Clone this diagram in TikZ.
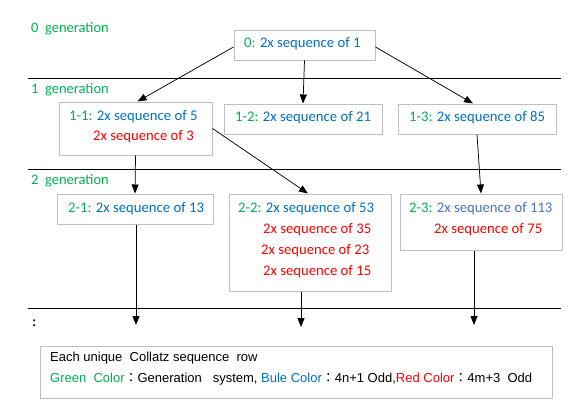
\documentclass[tikz,border=0pt]{standalone}
\usepackage{fontspec}
\setmainfont{Carlito}
\newfontfamily\arialf{Liberation Sans}
\newfontfamily\cjkf{Noto Sans CJK JP}
\usetikzlibrary{arrows.meta}
\definecolor{cgreen}{RGB}{0,176,80}
\definecolor{cblue}{RGB}{0,112,192}
\definecolor{cblueb}{RGB}{70,114,196}
\definecolor{cred}{RGB}{255,0,0}
\definecolor{cbox}{RGB}{191,191,191}
\newcommand{\gtx}[1]{\textcolor{cgreen}{#1}}
\newcommand{\btx}[1]{\textcolor{cblue}{#1}}
\newcommand{\rtx}[1]{\textcolor{cred}{#1}}
\begin{document}
\begin{tikzpicture}[x=1pt,y=-1pt,
  box/.style={draw=cbox, line width=1pt, inner sep=0pt},
  txt/.style={anchor=west, inner sep=0pt, font=\fontsize{14.7}{17}\selectfont},
  gen/.style={anchor=west, inner sep=0pt, text=cgreen, font=\fontsize{14.5}{17}\selectfont},
  leg/.style={anchor=west, inner sep=0pt, font=\arialf\fontsize{13}{15}\selectfont},
  sep/.style={line width=0.85pt, black},
  arr/.style={-{Triangle[length=9pt,width=7pt]}, line width=0.75pt, black}]
\useasboundingbox (0,0) rectangle (583,418);
% separator lines
\draw[sep] (28,78) -- (561,78);
\draw[sep] (28,169) -- (561,169);
\draw[sep] (28,308) -- (561,308);
% generation labels
\node[gen] (g0) at (31,29) {0\ \ generation};
\node[gen] (g1) at (31,90) {1\ \ generation};
\node[gen] (g2) at (31,181) {2\ \ generation};
\node[leg, font=\arialf\bfseries\fontsize{13}{15}\selectfont] (dots) at (32,323) {:};
% boxes
\node[box, minimum width=141, minimum height=30] (n0) at (304.5,45) {};
\node[box, minimum width=153, minimum height=53] (n11) at (135.5,128.5) {};
\node[box, minimum width=158, minimum height=30] (n12) at (303,119) {};
\node[box, minimum width=158, minimum height=30] (n13) at (477,119) {};
\node[box, minimum width=156, minimum height=30] (n21) at (135,209) {};
\node[box, minimum width=162, minimum height=97] (n22) at (310,242.5) {};
\node[box, minimum width=162, minimum height=56] (n23) at (481,222) {};
\node[box, minimum width=512, minimum height=52] (nleg) at (296,372) {};
% box texts
\node[txt] (t0) at (244,44) {\gtx{0:} \btx{2x sequence of 1}};
\node[txt] (t11a) at (69,117) {\gtx{1-1:} \btx{2x sequence of 5}};
\node[txt] (t11b) at (93,137) {\rtx{2x sequence of 3}};
\node[txt] (t12) at (235,118) {\gtx{1-2:} \btx{2x sequence of 21}};
\node[txt] (t13) at (409,118) {\gtx{1-3:} \btx{2x sequence of 85}};
\node[txt] (t21) at (68,209) {\gtx{2-1:} \btx{2x sequence of 13}};
\node[txt] (t22a) at (238,209) {\gtx{2-2:} \btx{2x sequence of 53}};
\node[txt] (t22b) at (263,230) {\rtx{2x sequence of 35}};
\node[txt] (t22c) at (261,251) {\rtx{2x sequence of 23}};
\node[txt] (t22d) at (263,272) {\rtx{2x sequence of 15}};
\node[txt] (t23a) at (409,209) {\gtx{2-3:} \textcolor{cblueb}{2x sequence of 113}};
\node[txt] (t23b) at (434,230) {\rtx{2x sequence of 75}};
% legend texts
\node[leg] (l1) at (50,358) {Each unique\ \ Collatz sequence\ \ row};
\node[leg] (l2) at (50,379) {\gtx{Green\ \ Color}{\cjkf ：}Generation\ \ \ system, \btx{Bule Color}{\cjkf ：}4n+1 Odd,\rtx{Red Color}{\cjkf ：}4m+3\ \ Odd};
% arrows
\coordinate (e1) at (136,325);
\coordinate (e2) at (301,327);
\coordinate (e3) at (474,325);
\draw[arr] ([yshift=-2pt]n0.west) -- ([xshift=2pt]n11.north);
\draw[arr] (n0.south) -- (n12.north);
\draw[arr] ([yshift=-2pt]n0.east) -- ([xshift=-4pt]n13.north);
\draw[arr] (n11.south) -- (n21.north);
\draw[arr] (n11.east) -- ([xshift=-2pt]n22.north);
\draw[arr] (n13.south) -- (n23.north);
\draw[arr] ([xshift=1pt]n21.south) -- (e1);
\draw[arr] ([xshift=-9pt]n22.south) -- (e2);
\draw[arr] ([xshift=-7pt]n23.south) -- (e3);
\end{tikzpicture}
\end{document}
